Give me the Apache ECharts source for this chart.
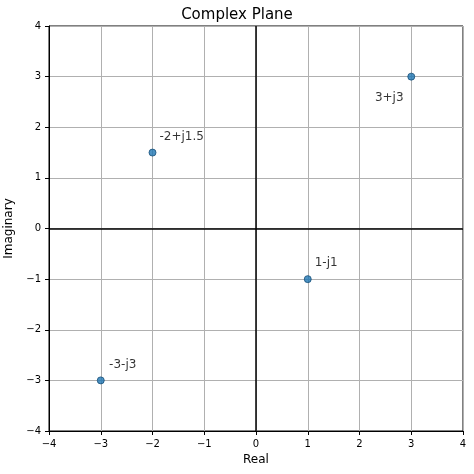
<!DOCTYPE html>
<html>
<head>
<meta charset="utf-8">
<script src="https://cdn.jsdelivr.net/npm/echarts@6/dist/echarts.min.js"></script>
<style>html,body{margin:0;padding:0;background:#fff}#chart{width:474px;height:474px}</style>
</head>
<body>
<div id="chart"></div>
<script>
// complex numbers: real part, imaginary part, label
var realParts = [3, -2, 1, -3];
var imagParts = [3, 1.5, -1, -3];
var pointLabels = ['3+j3', '-2+j1.5', '1-j1', '-3-j3'];
var ticks = [-4, -3, -2, -1, 0, 1, 2, 3, 4];

var font = 'DejaVu Sans';
function fmt(v) { return v < 0 ? '\u2212' + Math.abs(v) : String(v); }

var pts = realParts.map(function (x, i) {
	var below = pointLabels[i] === '3+j3';
	var w = pointLabels[i].length * 3.6;
	return {
		value: [x, imagParts[i]],
		label: {
			show: true, formatter: pointLabels[i], color: '#000', fontSize: 12, fontFamily: font,
			position: below ? 'bottom' : 'top',
			offset: below ? [-22, 6] : [w + 4, -1]
		}
	};
});

function axis(name, gap) {
	return {
		type: 'value', min: -4, max: 4, interval: 1,
		name: name, nameLocation: 'middle', nameGap: gap,
		nameTextStyle: { color: '#000', fontSize: 12, fontFamily: font },
		axisLine: { onZero: false, lineStyle: { color: '#000' } },
		axisTick: { show: true, length: 4, lineStyle: { color: '#000' } },
		axisLabel: { color: '#000', fontSize: 10, fontFamily: font, formatter: fmt },
		splitLine: { show: true, lineStyle: { color: '#b0b0b0', width: 1 } }
	};
}

var chart = echarts.init(document.getElementById('chart'));
chart.setOption({
	animation: false,
	title: { text: 'Complex Plane', left: 'center', top: 3,
		textStyle: { color: '#000', fontSize: 15, fontWeight: 'normal', fontFamily: font } },
	grid: { left: 49, right: 11, top: 26, bottom: 43, show: true, borderColor: '#000', borderWidth: 1,
		outerBoundsMode: 'none', containLabel: false },
	xAxis: axis('Real', 20),
	yAxis: axis('Imaginary', 30),
	series: [{
		type: 'scatter', data: pts, symbolSize: 7,
		itemStyle: { color: '#1f77b4', borderColor: '#174f78', borderWidth: 1 },
		markLine: {
			silent: true, symbol: 'none', label: { show: false },
			lineStyle: { color: '#000', width: 1.5, type: 'solid' },
			data: [{ xAxis: 0 }, { yAxis: 0 }]
		}
	}]
});
</script>
</body>
</html>
